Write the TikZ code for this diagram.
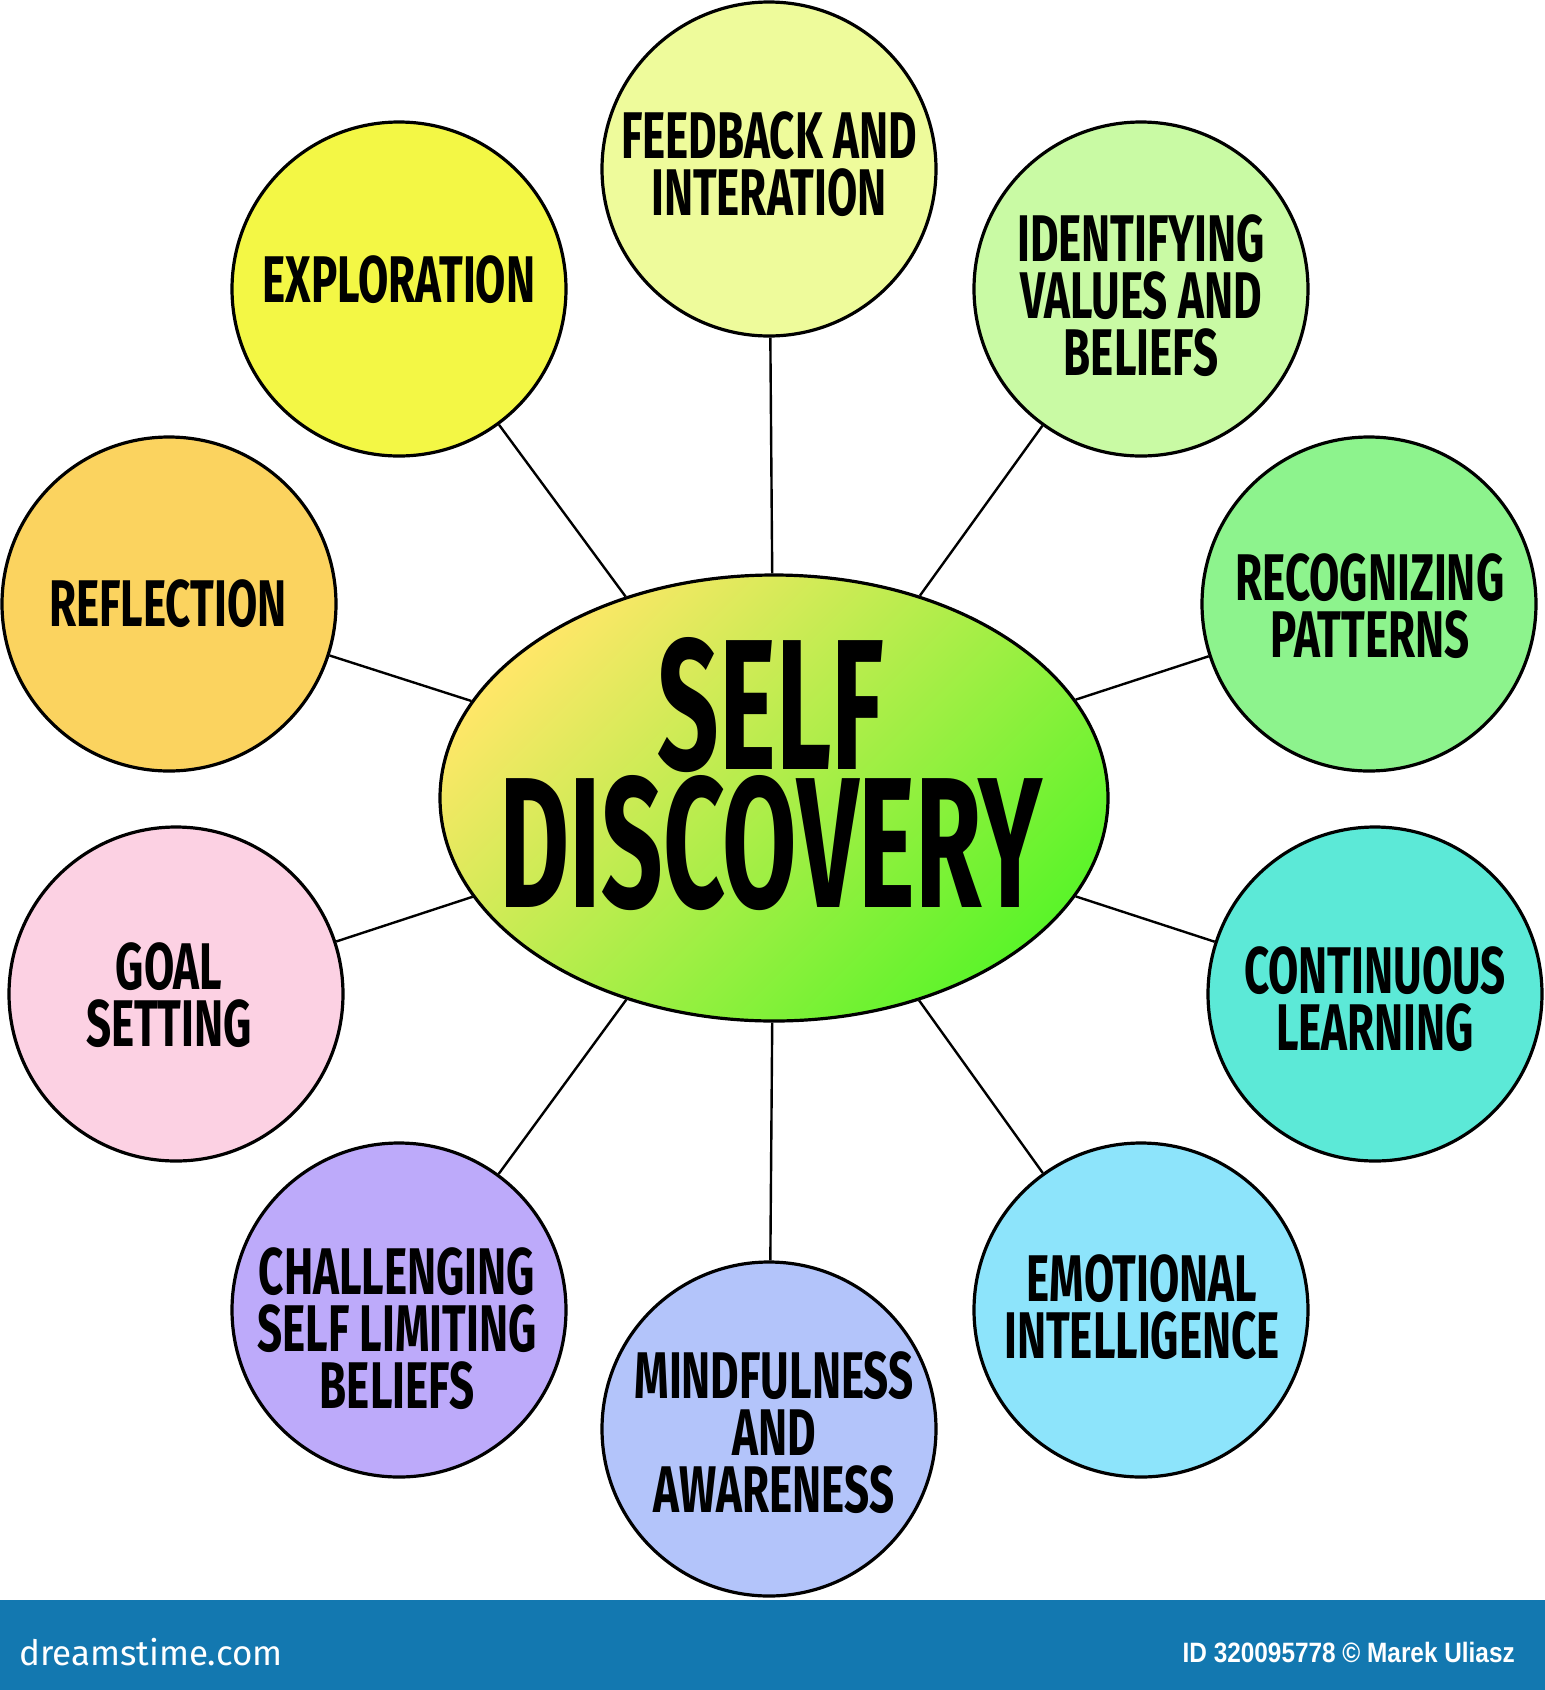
\documentclass[tikz,border=0pt]{standalone}
\usepackage{fontspec}
\setmainfont{Fira Sans}
\newfontfamily\handS[FakeStretch=0.665]{Fira Sans}
\newfontfamily\handL[FakeStretch=0.58]{Fira Sans}
\newfontfamily\barfont[FakeStretch=0.87]{Liberation Sans}
\usetikzlibrary{shapes.geometric}
\definecolor{cFeed}{HTML}{EEFB9B}
\definecolor{cExpl}{HTML}{F3F745}
\definecolor{cIden}{HTML}{C9FAA4}
\definecolor{cRefl}{HTML}{FBD35F}
\definecolor{cReco}{HTML}{8DF38D}
\definecolor{cGoal}{HTML}{FCD1E3}
\definecolor{cCont}{HTML}{5CE9D7}
\definecolor{cChal}{HTML}{BDAAFA}
\definecolor{cEmot}{HTML}{8DE4FB}
\definecolor{cMind}{HTML}{B3C4FA}
\definecolor{coreTop}{HTML}{FEE768}
\definecolor{coreMid}{HTML}{CFF35A}
\definecolor{coreBot}{HTML}{5CF42A}
\definecolor{barblue}{HTML}{1378B0}
\begin{document}
\begin{tikzpicture}[x=1pt,y=-1pt,
  bubble/.style={circle, draw=black, line width=3.2pt, minimum size=334pt, inner sep=0pt},
  lbl/.style={align=center, text=black, inner sep=0pt,
    font=\handS\bfseries\fontsize{66}{57}\selectfont},
  link/.style={draw=black, line width=2.4pt}]
\fill[white] (0,0) rectangle (1545,1690);
\fill[barblue] (0,1600) rectangle (1545,1690);

% central ellipse
\node[ellipse, draw=black, line width=3.2pt, minimum width=668pt, minimum height=446pt,
  inner sep=0pt, top color=coreTop, middle color=coreMid, bottom color=coreBot,
  shading angle=45] (core) at (774,798) {};
\node[align=center, inner sep=0pt, font=\handL\bfseries\fontsize{186}{138}\selectfont]
  (title) at (771,774) {SELF\\DISCOVERY};

% bubbles
\node[bubble, fill=cFeed] (feed) at (769,169) {};
\node[bubble, fill=cExpl] (expl) at (399,289) {};
\node[bubble, fill=cIden] (iden) at (1141,289) {};
\node[bubble, fill=cRefl] (refl) at (169,604) {};
\node[bubble, fill=cReco] (reco) at (1369,604) {};
\node[bubble, fill=cGoal] (goal) at (176,994) {};
\node[bubble, fill=cCont] (cont) at (1375,994) {};
\node[bubble, fill=cChal] (chal) at (399,1310) {};
\node[bubble, fill=cEmot] (emot) at (1141,1310) {};
\node[bubble, fill=cMind] (mind) at (769,1429) {};

% labels
\node[lbl] (tfeed) at (769,164) {FEEDBACK AND\\INTERATION};
\node[lbl] (texpl) at (399,280) {EXPLORATION};
\node[lbl] (tiden) at (1141,296) {IDENTIFYING\\VALUES AND\\BELIEFS};
\node[lbl] (trefl) at (168,604) {REFLECTION};
\node[lbl] (treco) at (1370,606) {RECOGNIZING\\PATTERNS};
\node[lbl] (tgoal) at (169,995) {GOAL\\SETTING};
\node[lbl] (tcont) at (1375,999) {CONTINUOUS\\LEARNING};
\node[lbl] (tchal) at (397,1329) {CHALLENGING\\SELF LIMITING\\BELIEFS};
\node[lbl] (temot) at (1142,1307) {EMOTIONAL\\INTELLIGENCE};
\node[lbl] (tmind) at (774,1433) {MINDFULNESS\\AND\\AWARENESS};

% connectors
\foreach \b in {feed,expl,iden,refl,reco,goal,cont,chal,emot,mind}
  \draw[link] (core) -- (\b);

% footer bar
\node[anchor=west, text=white, inner sep=0pt, font=\fontsize{35}{35}\selectfont]
  (logo) at (19,1652) {dreamstime.com};
\node[anchor=east, text=white, inner sep=0pt, font=\barfont\bfseries\fontsize{28}{28}\selectfont]
  (credit) at (1515,1652) {ID 320095778 © Marek Uliasz};
\end{tikzpicture}
\end{document}
